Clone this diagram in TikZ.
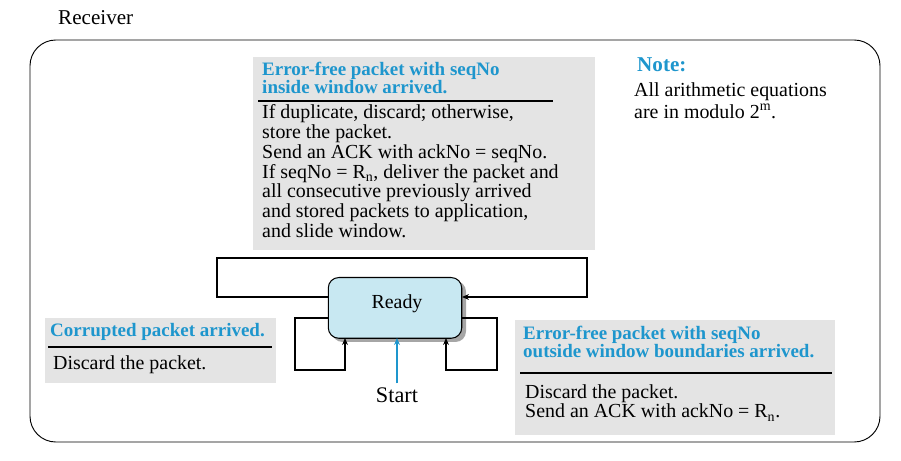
\documentclass[tikz,border=0pt]{standalone}
\usepackage{fontspec}
\setmainfont{Liberation Serif}
\usetikzlibrary{arrows.meta}
\definecolor{hd}{RGB}{30,150,205}
\definecolor{gbox}{RGB}{228,228,228}
\definecolor{rdy}{RGB}{200,232,242}
\begin{document}
\begin{tikzpicture}[x=0.03cm,y=-0.03cm,
  txt/.style={font=\fontsize{17}{17}\selectfont,align=left,inner sep=0pt,anchor=north west},
  hdr/.style={txt,font=\fontsize{16.2}{15.5}\selectfont\bfseries,text=hd},
  gb/.style={fill=gbox,draw=none},
  ln/.style={line width=0.9pt},
  arr/.style={ln,-{Stealth[length=6pt,width=5pt]}}]
\useasboundingbox (0,0) rectangle (901,461);
\node[txt,font=\fontsize{18}{18}\selectfont] (recv) at (58,10) {Receiver};
\draw[line width=0.8pt,rounded corners=22pt] (30,40) rectangle (880,442);
% top box
\fill[gb] (253,57) rectangle (595,250);
\node[hdr] (h1) at (262,62) {Error-free packet with seqNo\\inside window arrived.};
\draw[ln] (258,101) -- (553,101);
\node[txt] (t1) at (262,104) {If duplicate, discard; otherwise,\\store the packet.\\Send an ACK with ackNo = seqNo.\\If seqNo = R$_\mathrm{n}$, deliver the packet and\\all consecutive previously arrived\\and stored packets to application,\\and slide window.};
% note
\node[hdr,font=\fontsize{18}{18}\selectfont\bfseries] (note) at (637,57) {Note:};
\node[txt,font=\fontsize{17}{19}\selectfont] (nt) at (634,82) {All arithmetic equations\\are in modulo 2$^\mathrm{m}$.};
% left box
\fill[gb] (45,318) rectangle (276,383);
\node[hdr] (h2) at (50,323) {Corrupted packet arrived.};
\draw[ln] (48,347) -- (272,347);
\node[txt] (t2) at (53,355) {Discard the packet.};
% right box
\fill[gb] (515,320) rectangle (835,435);
\node[hdr] (h3) at (523,326) {Error-free packet with seqNo\\outside window boundaries arrived.};
\draw[ln] (520,373) -- (832,373);
\node[txt] (t3) at (525,384) {Discard the packet.\\Send an ACK with ackNo = R$_\mathrm{n}$.};
% ready
\fill[gray!70,rounded corners=9pt] (332,281) rectangle (466,342);
\node[draw,line width=0.9pt,fill=rdy,rounded corners=9pt,minimum width=134*0.85pt,
  minimum height=61*0.85pt,font=\fontsize{17}{17}\selectfont,anchor=north,text depth=30pt] (ready) at (395,277) {};
\node[font=\fontsize{17}{17}\selectfont] (rl) at (397,304) {Ready};
\coordinate (rL) at (328,297);
\coordinate (rR) at (462,297);
\draw[arr] (rL) -- (217,297) -- (217,258) -- (587,258) -- (587,297) -- (rR);
\coordinate (lL) at (328,318);
\coordinate (lB) at (345,338);
\draw[arr] (lL) -- (295,318) -- (295,370) -- (345,370) -- (lB);
\coordinate (rrR) at (462,318);
\coordinate (rrB) at (446,338);
\draw[arr] (rrR) -- (497,318) -- (497,370) -- (446,370) -- (rrB);
\node[font=\fontsize{19}{19}\selectfont] (start) at (397,395) {Start};
\coordinate (sB) at (397,338);
\draw[arr,draw=hd,line width=1.2pt] (start.north) -- (sB);
\end{tikzpicture}
\end{document}
